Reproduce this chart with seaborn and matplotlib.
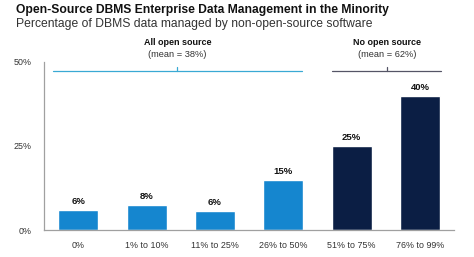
import matplotlib
matplotlib.use("Agg")
import matplotlib.pyplot as plt
import seaborn as sns
import pandas as pd

categories = ["0%", "1% to 10%", "11% to 25%", "26% to 50%", "51% to 75%", "76% to 99%"]
values = [6.0, 7.5, 5.6, 15.0, 25.0, 40.0]
value_labels = ["6%", "8%", "6%", "15%", "25%", "40%"]
groups = ["open", "open", "open", "open", "closed", "closed"]
ytick_vals = [0, 25, 50]
ytick_labels = ["0%", "25%", "50%"]

BLUE = "#1586cf"
NAVY = "#0b1e44"

sns.set_theme(style="white")
plt.rcParams["font.family"] = ["Liberation Sans", "DejaVu Sans"]

df = pd.DataFrame({"cat": categories, "val": values, "grp": groups})

fig = plt.figure(figsize=(4.74, 2.57), dpi=100)
ax = fig.add_axes([0.093, 0.105, 0.865, 0.654])
sns.barplot(data=df, x="cat", y="val", hue="grp", palette={"open": BLUE, "closed": NAVY},
            width=0.585, dodge=False, legend=False, ax=ax, saturation=1)
ax.set_xlim(-0.5, 5.5)
ax.set_ylim(0, 50)
ax.set_xlabel("")
ax.set_ylabel("")
ax.set_yticks(ytick_vals)
ax.set_yticklabels(ytick_labels)
ax.tick_params(axis="both", length=0, labelsize=6.4, colors="#333333", pad=9)
ax.tick_params(axis="x", pad=8)
for s in ["top", "right"]:
    ax.spines[s].set_visible(False)
for s in ["left", "bottom"]:
    ax.spines[s].set_color("#a0a0a0")
    ax.spines[s].set_linewidth(0.9)

for i, (v, lab) in enumerate(zip(values, value_labels)):
    ax.text(i, v + 1.2, lab, ha="center", va="bottom", fontsize=6.8, fontweight="bold", color="#111111")

# brackets
def bracket(x0, x1, xm, y, color, title, sub):
    ax.plot([x0, x1], [y, y], color=color, lw=0.9, clip_on=False)
    ax.plot([xm, xm], [y, y + 1.3], color=color, lw=0.9, clip_on=False)
    ax.text(xm, y + 8.4, title, ha="center", va="center", fontsize=6.5, fontweight="bold", color="#111111", clip_on=False)
    ax.text(xm, y + 5.0, sub, ha="center", va="center", fontsize=6.7, color="#333333", clip_on=False)

bracket(-0.37, 3.28, 1.45, 47.3, "#3aa9d4", "All open source", "(mean = 38%)")
bracket(3.72, 5.31, 4.52, 47.3, "#555566", "No open source", "(mean = 62%)")

fig.text(0.034, 0.962, "Open-Source DBMS Enterprise Data Management in the Minority",
         ha="left", va="center", fontsize=8.7, fontweight="bold", color="#111111")
fig.text(0.034, 0.906, "Percentage of DBMS data managed by non-open-source software",
         ha="left", va="center", fontsize=8.7, color="#333333")

fig.savefig("out.png", dpi=100)
